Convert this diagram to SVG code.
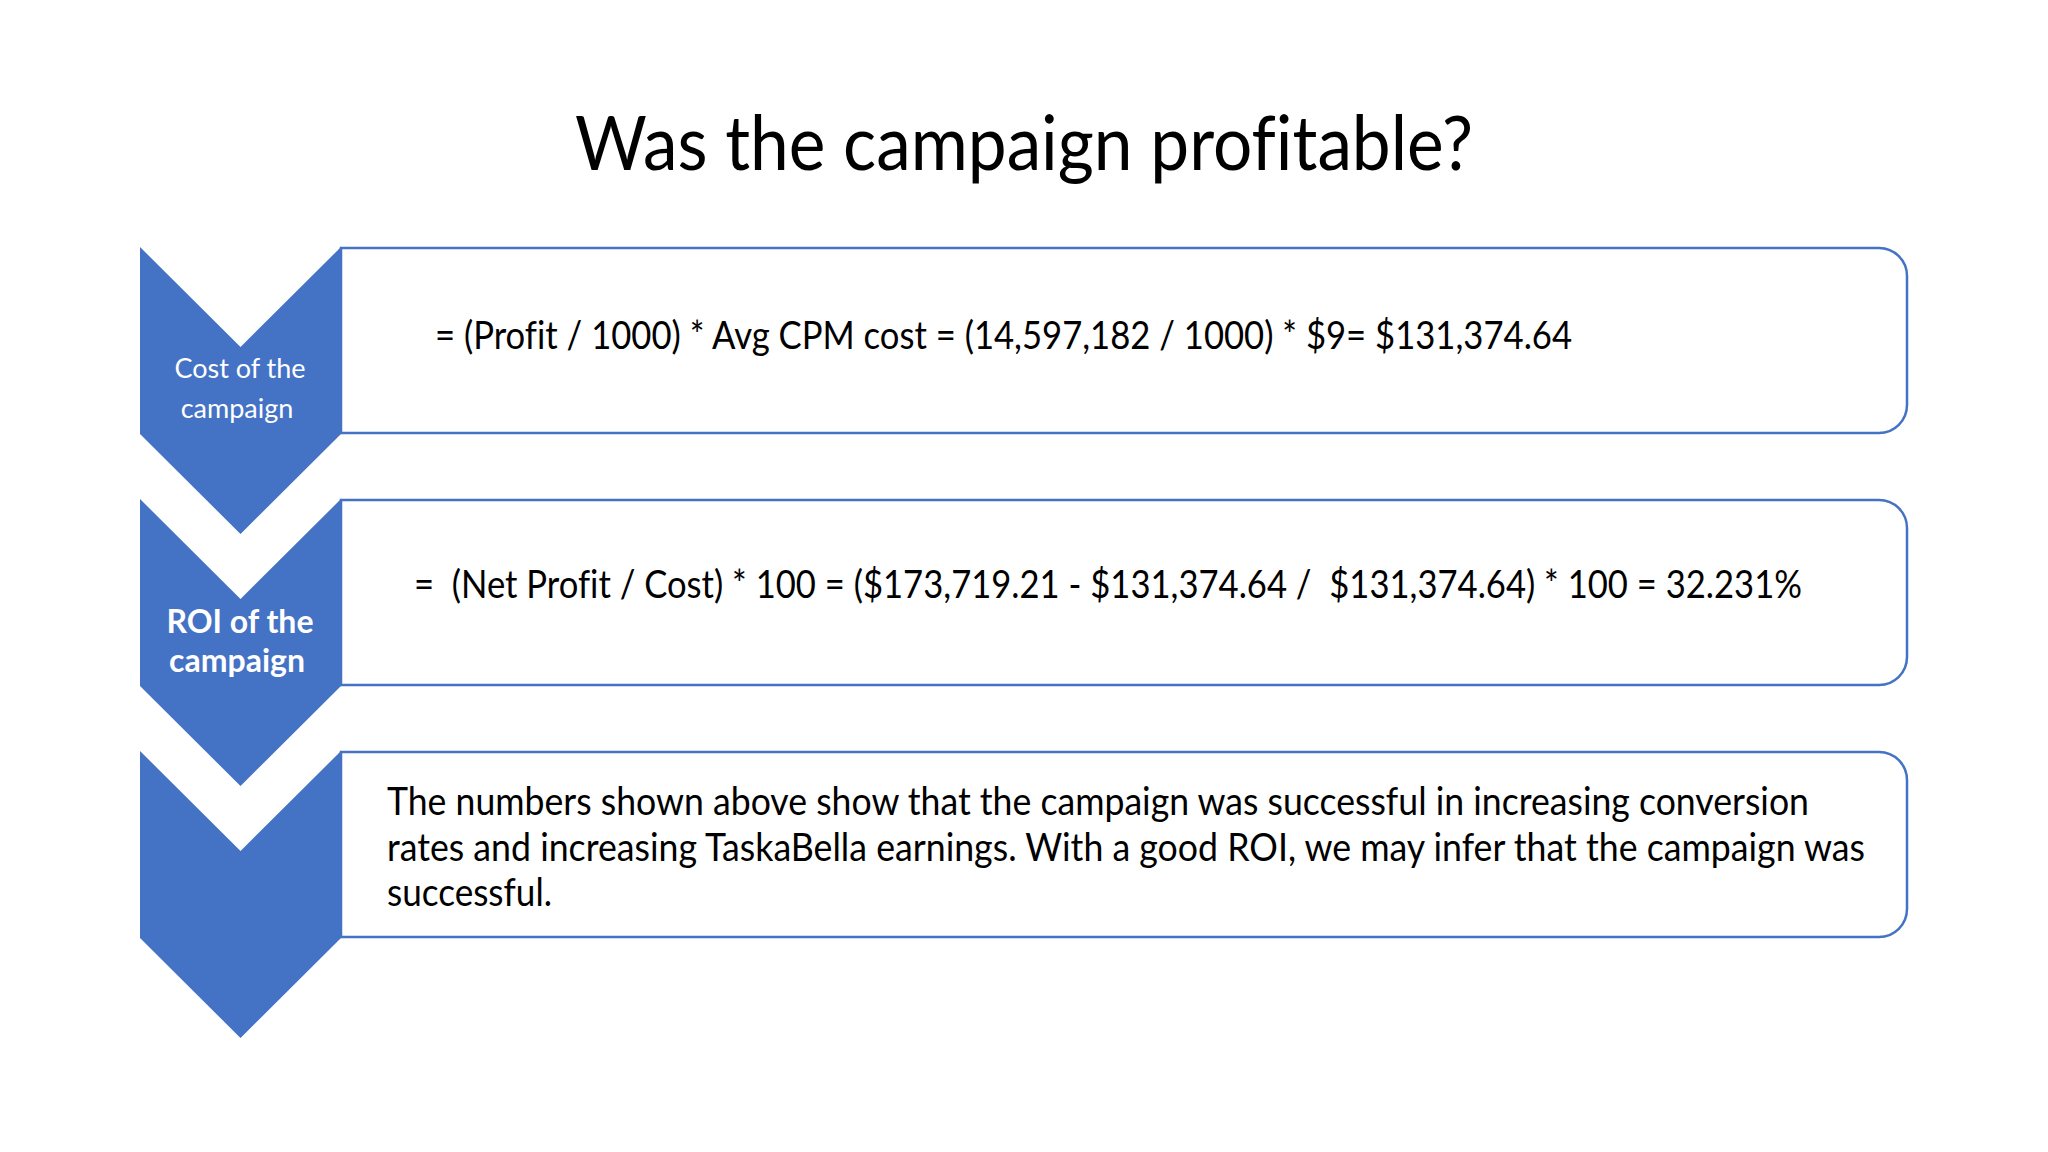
<svg xmlns="http://www.w3.org/2000/svg" width="2048" height="1152" viewBox="0 0 2048 1152">
<style>
.bg{fill:#ffffff}
.chev{fill:#4472C4}
.box{fill:#ffffff;stroke:#4472C4;stroke-width:2.5}
.t{font-family:Lato,"Liberation Sans",sans-serif;fill:#000000;white-space:pre;font-variant-ligatures:none;font-feature-settings:"liga" 0,"clig" 0}
.lbl{font-family:Lato,"Liberation Sans",sans-serif;fill:#ffffff;text-anchor:middle}
</style>
<rect class="bg" x="0" y="0" width="2048" height="1152"/>
<text class="t" x="575" y="170" font-size="76" textLength="898" lengthAdjust="spacingAndGlyphs">Was the campaign profitable?</text>

<g id="step1">
<path class="box" d="M341,248 H1879 A28,28 0 0 1 1907,276 V405 A28,28 0 0 1 1879,433 H341 Z"/>
<path class="chev" d="M140,247 L240.5,347 L341,247 L341,434 L240.5,534 L140,434 Z"/>
<text class="lbl" x="240" y="378" font-size="27">Cost of the</text>
<text class="lbl" x="237" y="418" font-size="27">campaign</text>
<text class="t" x="435" y="349" font-size="39" textLength="1137" lengthAdjust="spacingAndGlyphs">= (Profit / 1000) * Avg CPM cost = (14,597,182 / 1000) * $9= $131,374.64</text>
</g>

<g id="step2">
<path class="box" d="M341,500 H1879 A28,28 0 0 1 1907,528 V657 A28,28 0 0 1 1879,685 H341 Z"/>
<path class="chev" d="M140,499 L240.5,599 L341,499 L341,686 L240.5,786 L140,686 Z"/>
<text class="lbl" x="240" y="633" font-size="32" font-weight="bold">ROI of the</text>
<text class="lbl" x="237" y="672" font-size="32" font-weight="bold">campaign</text>
<text class="t" x="414" y="598" font-size="39" textLength="1388" lengthAdjust="spacingAndGlyphs">=  (Net Profit / Cost) * 100 = ($173,719.21 - $131,374.64 /  $131,374.64) * 100 = 32.231%</text>
</g>

<g id="step3">
<path class="box" d="M341,752 H1879 A28,28 0 0 1 1907,780 V909 A28,28 0 0 1 1879,937 H341 Z"/>
<path class="chev" d="M140,751 L240.5,851 L341,751 L341,938 L240.5,1038 L140,938 Z"/>
<text class="t" x="387" y="815" font-size="38" textLength="1422" lengthAdjust="spacingAndGlyphs">The numbers shown above show that the campaign was successful in increasing conversion</text>
<text class="t" x="387" y="861" font-size="38" textLength="1478" lengthAdjust="spacingAndGlyphs">rates and increasing TaskaBella earnings. With a good ROI, we may infer that the campaign was</text>
<text class="t" x="387" y="906" font-size="38" textLength="165" lengthAdjust="spacingAndGlyphs">successful.</text>
</g>

<g id="connectors"/>
</svg>
